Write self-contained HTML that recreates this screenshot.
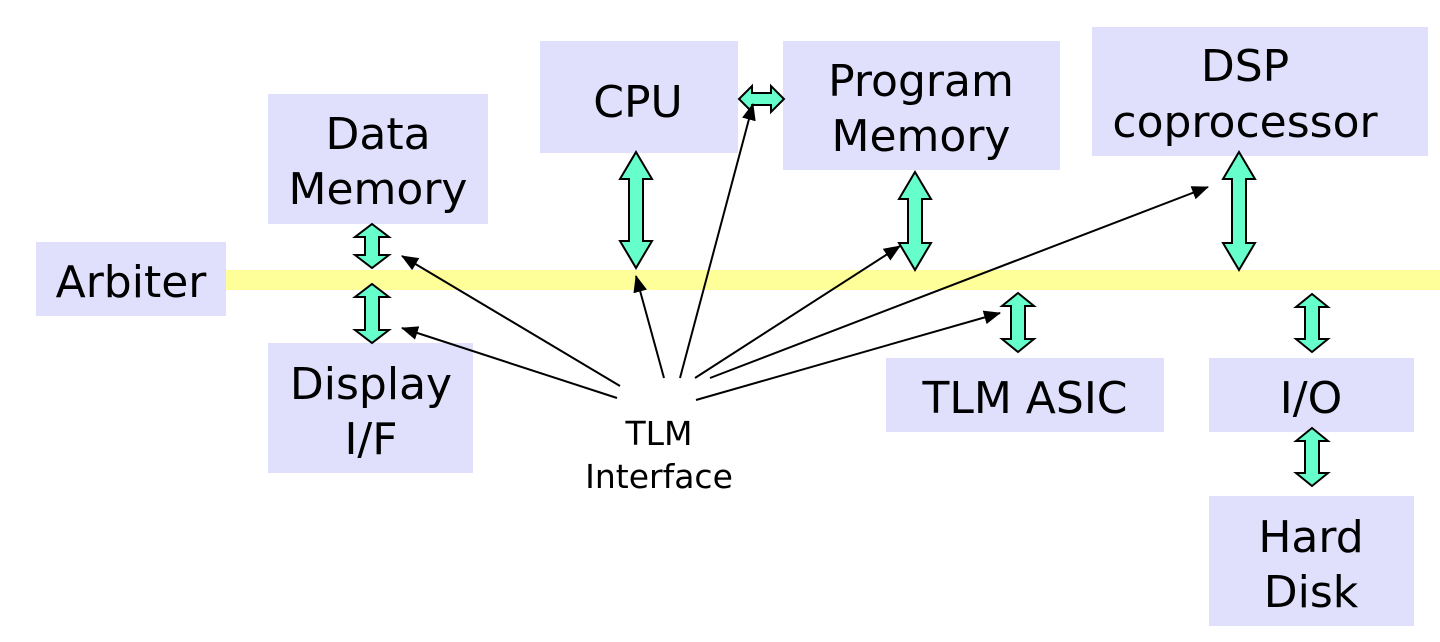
<!DOCTYPE html>
<html><head><meta charset="utf-8"><style>
html,body{margin:0;padding:0;background:#fff;width:1440px;height:642px;overflow:hidden}
text{font-family:"DejaVu Sans","Liberation Sans",sans-serif;fill:#000}
</style></head><body>
<svg width="1440" height="642" viewBox="0 0 1440 642" xmlns="http://www.w3.org/2000/svg">
<defs><marker id="ah" markerWidth="17" markerHeight="14" refX="16" refY="7" orient="auto" markerUnits="userSpaceOnUse" viewBox="0 0 17 14"><path d="M0,0 L17,7 L0,14 z" fill="#000"/></marker></defs>
<g fill="#e0e0fd">
<rect x="268" y="94" width="220" height="130"/>
<rect x="540" y="41" width="198" height="112"/>
<rect x="783" y="41" width="277" height="129"/>
<rect x="1092" y="27" width="336" height="129"/>
<rect x="36" y="242" width="190" height="74"/>
<rect x="268" y="343" width="205" height="130"/>
<rect x="886" y="358" width="278" height="74"/>
<rect x="1209" y="358" width="205" height="74"/>
<rect x="1209" y="496" width="205" height="130"/>
</g>
<rect x="226" y="270" width="1214" height="20" fill="#ffff99"/>
<g fill="#66ffcc" stroke="#000" stroke-width="2" stroke-linejoin="miter">
<polygon points="372,224 389,237 379,237 379,255 389,255 372,268 355,255 365,255 365,237 355,237"/>
<polygon points="372,284 389,297 379,297 379,330 389,330 372,343 355,330 365,330 365,297 355,297"/>
<polygon points="636,152 652,179 643,179 643,241 652,241 636,268 620,241 629,241 629,179 620,179"/>
<polygon points="915,172 931,199 922,199 922,243 931,243 915,270 899,243 908,243 908,199 899,199"/>
<polygon points="1239,152 1255,179 1246,179 1246,243 1255,243 1239,270 1223,243 1232,243 1232,179 1223,179"/>
<polygon points="1018,293 1034,306 1025,306 1025,339 1034,339 1018,352 1002,339 1011,339 1011,306 1002,306"/>
<polygon points="1312,294 1328,307 1319,307 1319,339 1328,339 1312,352 1296,339 1305,339 1305,307 1296,307"/>
<polygon points="1312,428 1328,441 1319,441 1319,473 1328,473 1312,486 1296,473 1305,473 1305,441 1296,441"/>
<polygon points="739,99 752,86 752,93 771,93 771,86 784,99 771,112 771,105 752,105 752,112"/>
</g>
<g stroke="#000" stroke-width="2" marker-end="url(#ah)">
<line x1="620" y1="386" x2="402" y2="256"/>
<line x1="617" y1="398" x2="402" y2="328"/>
<line x1="664" y1="378" x2="636" y2="276"/>
<line x1="680" y1="378" x2="753" y2="104"/>
<line x1="695" y1="378" x2="900" y2="246"/>
<line x1="710" y1="378" x2="1208" y2="187"/>
<line x1="696" y1="400" x2="1000" y2="313"/>
</g>
<g font-size="44" text-anchor="middle">
<text x="378" y="149">Data</text><text x="378" y="204">Memory</text>
<text x="638" y="117">CPU</text>
<text x="921" y="96">Program</text><text x="921" y="151">Memory</text>
<text x="1245" y="81">DSP</text><text x="1245" y="137">coprocessor</text>
<text x="131" y="297">Arbiter</text>
<text x="371" y="399">Display</text><text x="371" y="454">I/F</text>
<text x="1025" y="413">TLM ASIC</text>
<text x="1311" y="413">I/O</text>
<text x="1311" y="552">Hard</text><text x="1311" y="607">Disk</text>
</g>
<g font-size="33" text-anchor="middle">
<text x="659" y="445">TLM</text><text x="659" y="488">Interface</text>
</g>
</svg>
</body></html>
